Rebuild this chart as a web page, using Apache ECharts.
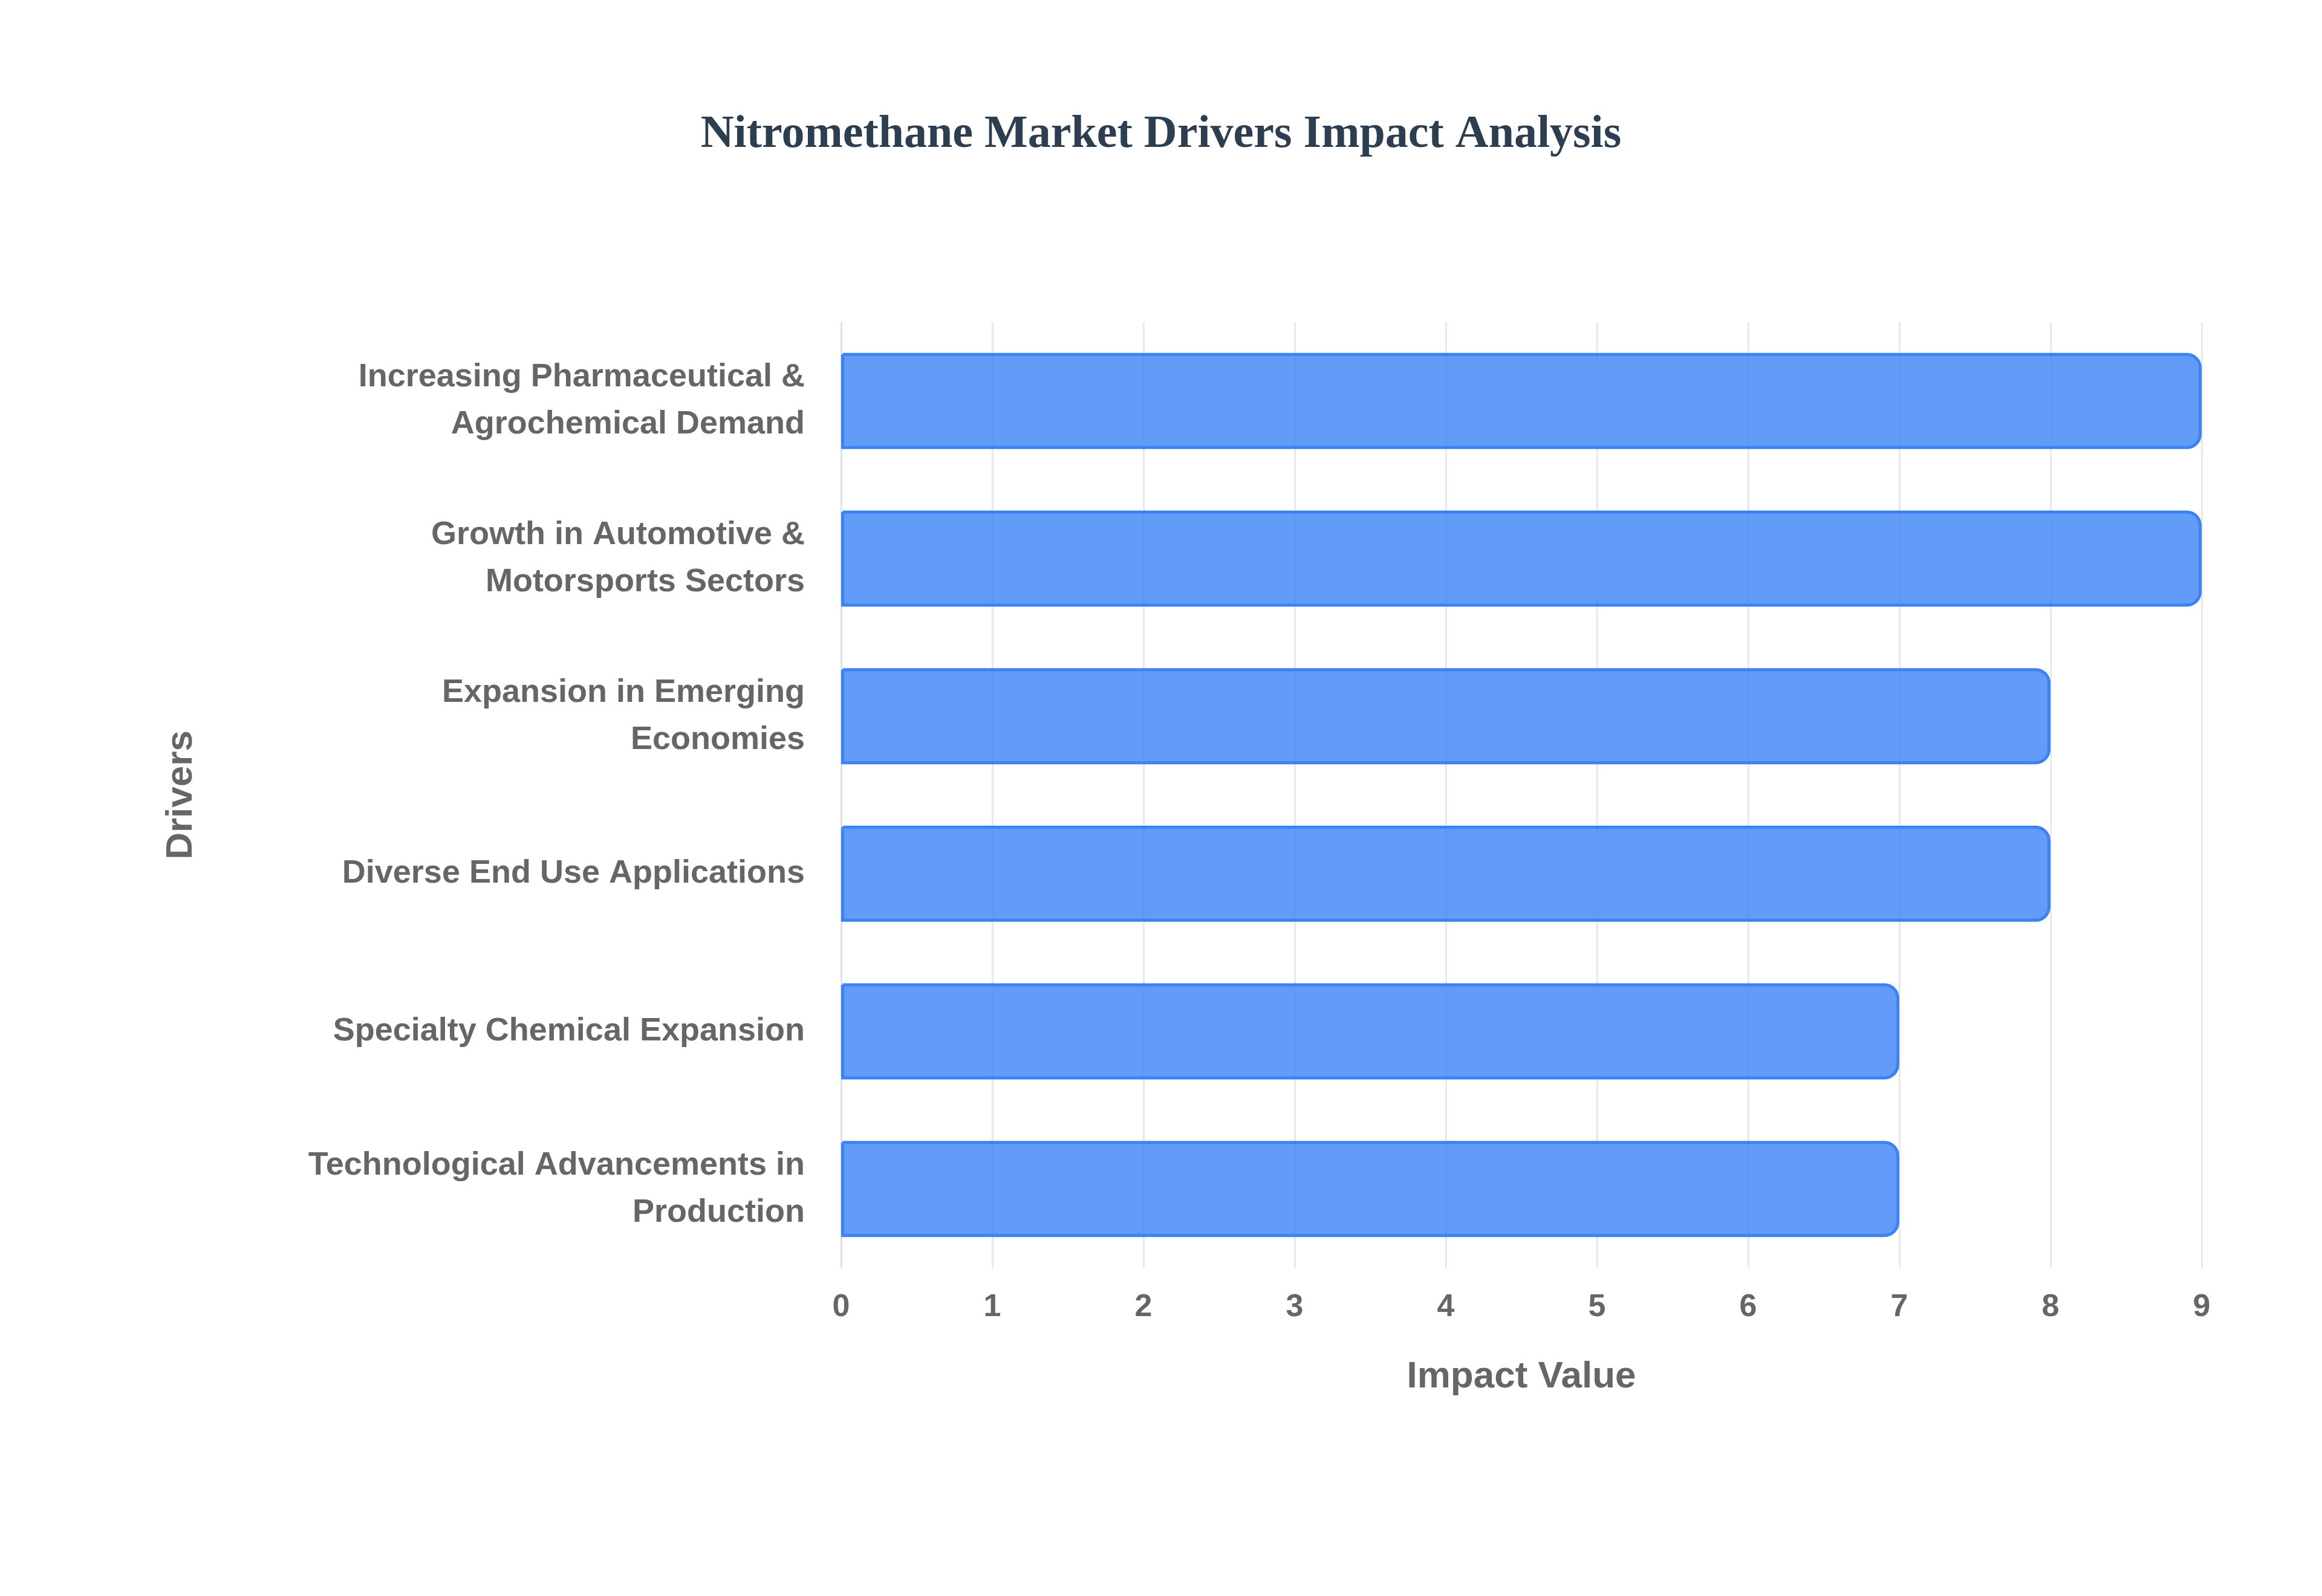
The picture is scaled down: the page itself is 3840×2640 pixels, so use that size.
<!DOCTYPE html>
<html>
<head>
<meta charset="utf-8">
<script src="https://cdn.jsdelivr.net/npm/echarts@6/dist/echarts.min.js"></script>
<style>html,body{margin:0;padding:0;background:#fff}#chart{width:3840px;height:2640px}</style>
</head>
<body>
<div id="chart"></div>
<script>
var drivers = [
  "Technological Advancements in\nProduction",
  "Specialty Chemical Expansion",
  "Diverse End Use Applications",
  "Expansion in Emerging\nEconomies",
  "Growth in Automotive &\nMotorsports Sectors",
  "Increasing Pharmaceutical &\nAgrochemical Demand"
];
var impactValues = [7, 7, 8, 8, 9, 9];

var chart = echarts.init(document.getElementById("chart"));
chart.setOption({
  animation: false,
  title: {
    text: "Nitromethane Market Drivers Impact Analysis",
    left: "center",
    top: 180,
    textStyle: { fontFamily: "Liberation Serif", fontWeight: "bold", fontSize: 76, color: "#2c3e50" }
  },
  grid: { left: 1391, right: 199, top: 533, bottom: 543 },
  xAxis: {
    type: "value",
    min: 0,
    max: 9,
    interval: 1,
    name: "Impact Value",
    nameLocation: "middle",
    nameGap: 150,
    nameTextStyle: { fontFamily: "Liberation Sans", fontWeight: "bold", fontSize: 62, color: "#666" },
    axisLabel: { fontFamily: "Liberation Sans", fontWeight: "bold", fontSize: 52, color: "#666", margin: 40 },
    axisLine: { show: false },
    axisTick: { show: false },
    splitLine: { lineStyle: { color: "#e8e8e8", width: 3 } }
  },
  yAxis: {
    type: "category",
    data: drivers,
    name: "Drivers",
    nameLocation: "middle",
    nameGap: 1060,
    nameRotate: 90,
    nameTextStyle: { fontFamily: "Liberation Sans", fontWeight: "bold", fontSize: 62, color: "#666" },
    axisLabel: { fontFamily: "Liberation Sans", fontWeight: "bold", fontSize: 54, color: "#666", lineHeight: 78, margin: 60 },
    axisLine: { show: true, lineStyle: { color: "#e0e0e0", width: 3 } },
    axisTick: { show: false }
  },
  series: [{
    type: "bar",
    data: impactValues,
    barWidth: "61%",
    itemStyle: {
      color: "rgba(59,130,246,0.8)",
      borderColor: "#3b82f6",
      borderWidth: 5,
      borderRadius: [0, 22, 22, 0]
    }
  }]
});
</script>
</body>
</html>
